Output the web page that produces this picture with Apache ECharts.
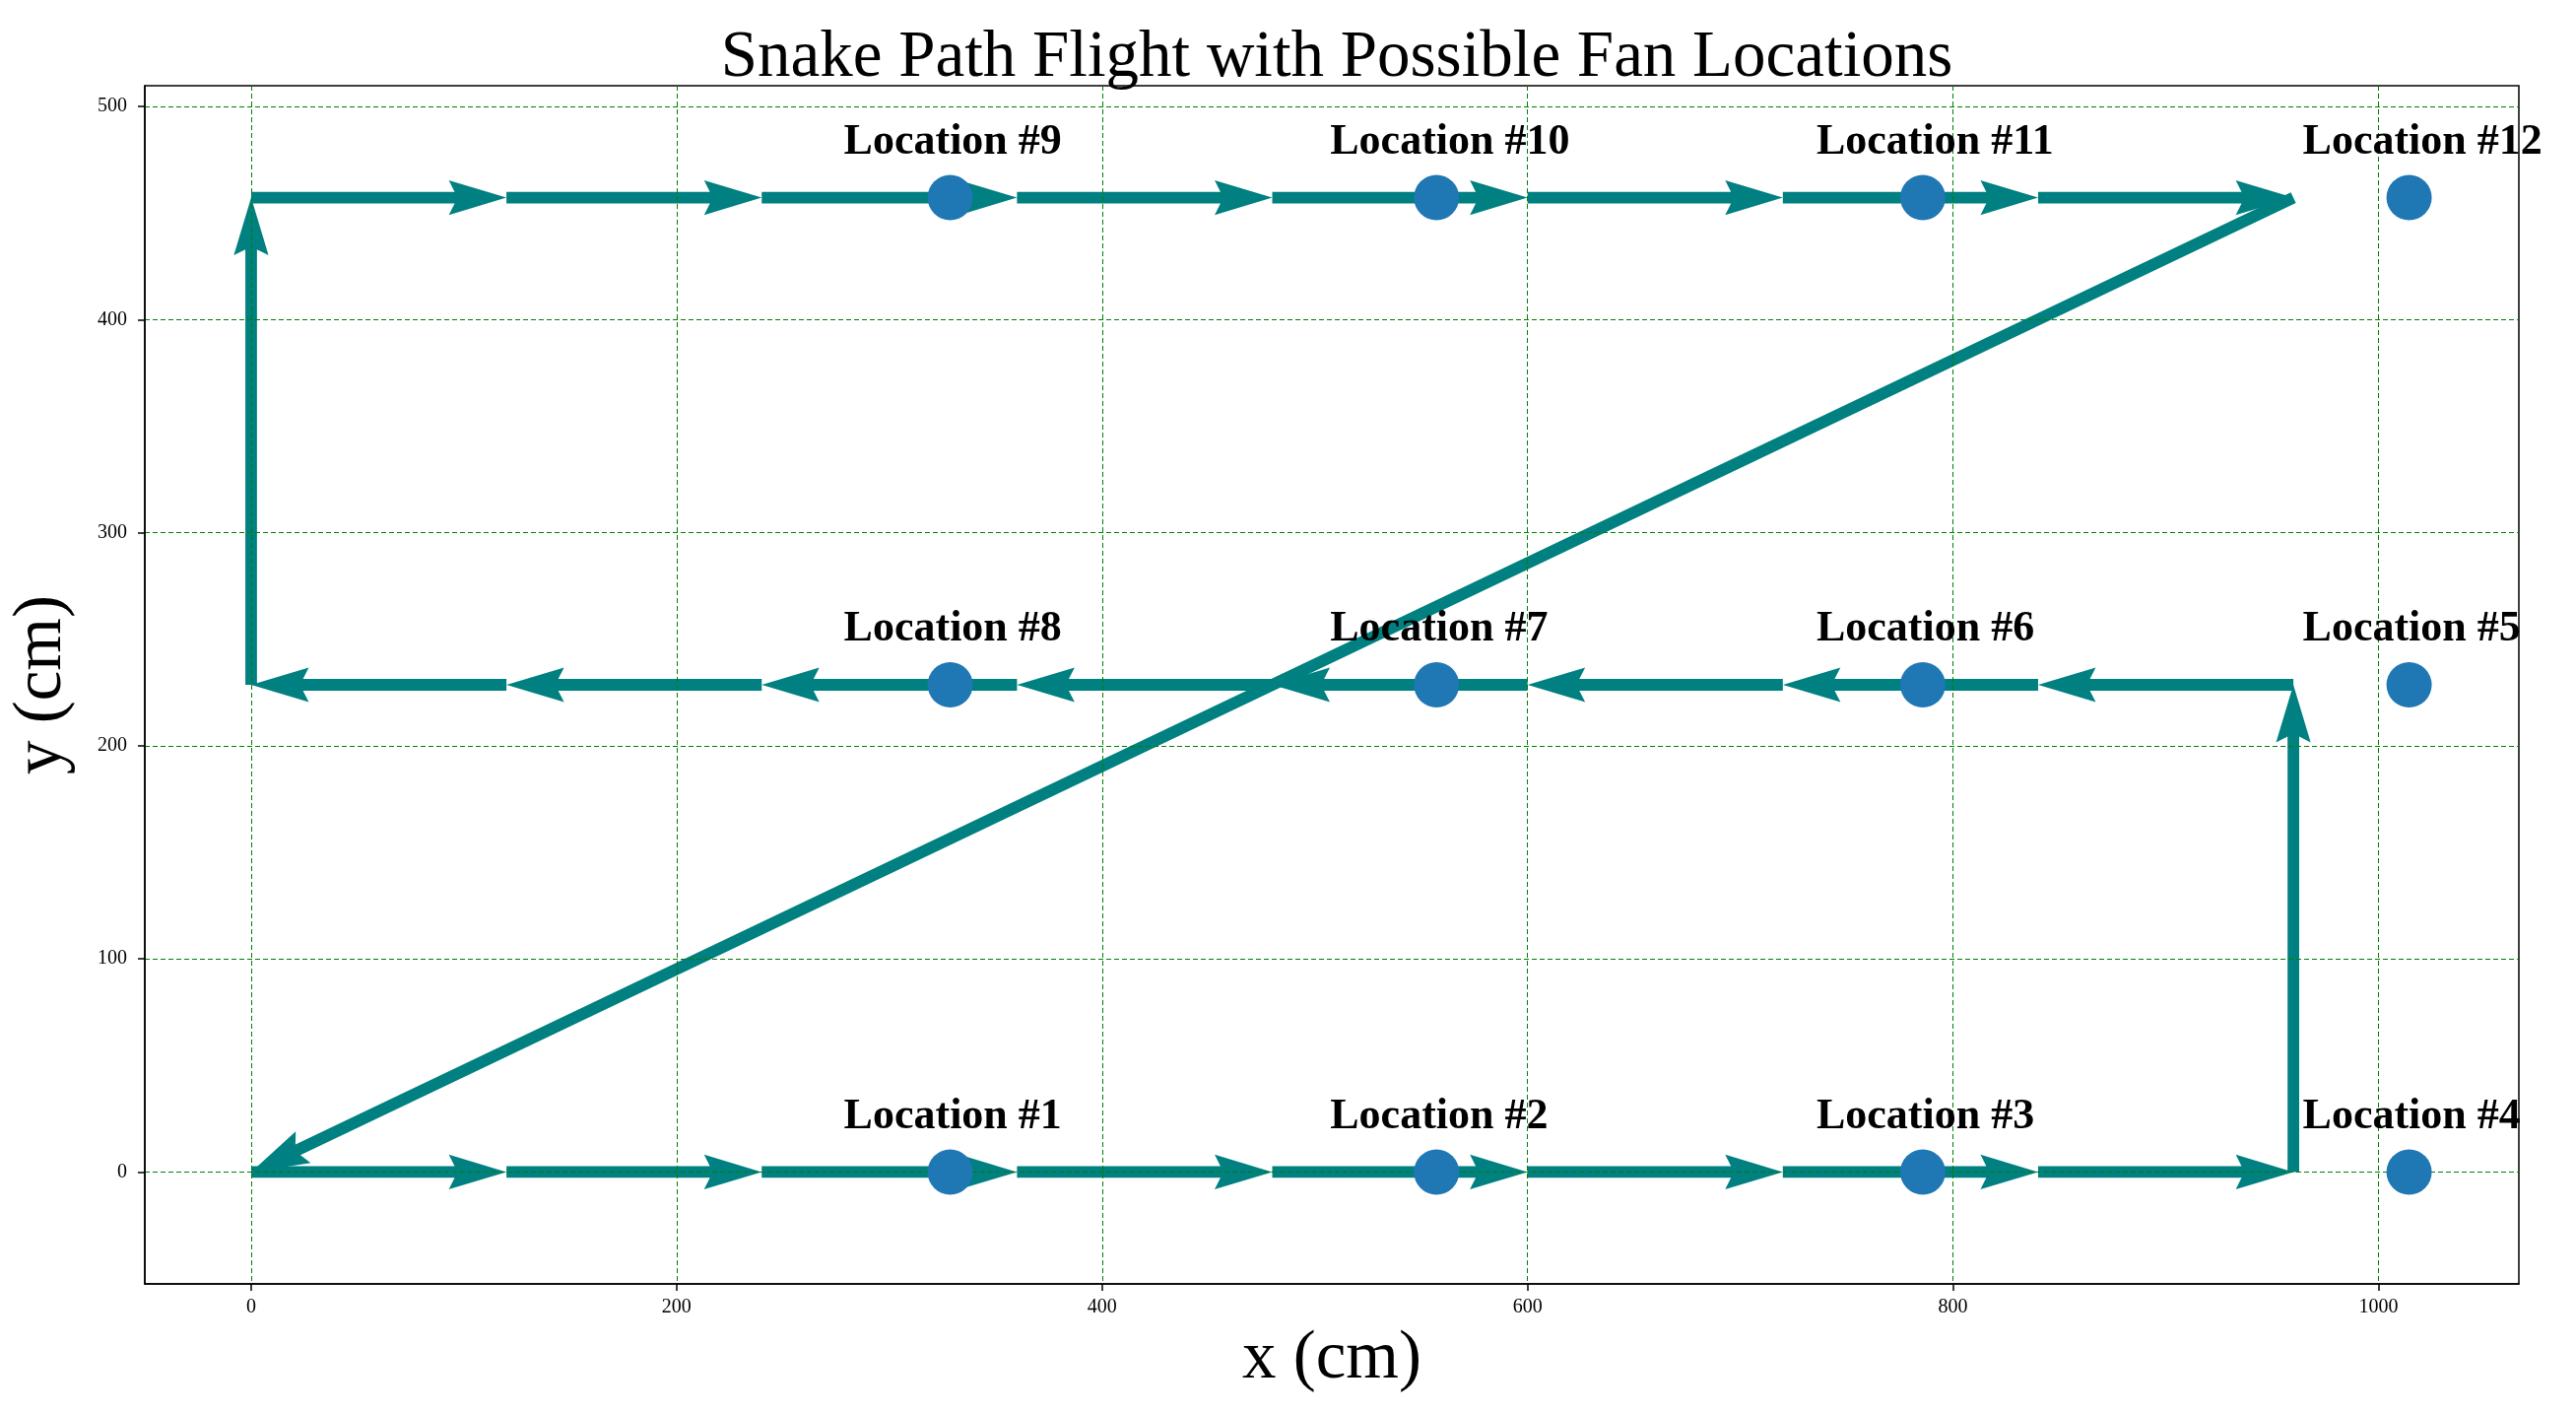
<!DOCTYPE html>
<html>
<head>
<meta charset="utf-8">
<title>Snake Path Flight with Possible Fan Locations</title>
<script src="https://cdn.jsdelivr.net/npm/echarts@6/dist/echarts.min.js"></script>
<style>
  html, body { margin: 0; padding: 0; background: #fff; }
  #main { width: 2615px; height: 1433px; }
</style>
</head>
<body>
<div id="main"></div>
<script>
// ------------------------------
// Data
// ------------------------------
// flight waypoints, in order; each pair of neighbours is one arrow
var flightX = [0, 120, 240, 360, 480, 600, 720, 840, 960,
               960, 840, 720, 600, 480, 360, 240, 120, 0,
               0, 120, 240, 360, 480, 600, 720, 840, 960,
               0];
var flightY = [0, 0, 0, 0, 0, 0, 0, 0, 0,
               228.6, 228.6, 228.6, 228.6, 228.6, 228.6, 228.6, 228.6, 228.6,
               457.2, 457.2, 457.2, 457.2, 457.2, 457.2, 457.2, 457.2, 457.2,
               0];

// possible fan locations
var fanNames = ['Location #1', 'Location #2', 'Location #3', 'Location #4',
                'Location #5', 'Location #6', 'Location #7', 'Location #8',
                'Location #9', 'Location #10', 'Location #11', 'Location #12'];
var fanX = [328.6, 557.2, 785.8, 1014.4, 1014.4, 785.8, 557.2, 328.6, 328.6, 557.2, 785.8, 1014.4];
var fanY = [0, 0, 0, 0, 228.6, 228.6, 228.6, 228.6, 457.2, 457.2, 457.2, 457.2];

// tick labels
var xTicks = [0, 200, 400, 600, 800, 1000];
var yTicks = [0, 100, 200, 300, 400, 500];

// ------------------------------
// Build series data
// ------------------------------
var arrowData = [];
for (var i = 0; i < flightX.length - 1; i++) {
    arrowData.push([flightX[i], flightY[i], flightX[i + 1], flightY[i + 1]]);
}
var fanData = fanX.map(function (x, i) { return [x, fanY[i], fanNames[i]]; });

var TEAL = '#008080';
var SERIF = '"Liberation Serif", "Times New Roman", serif';

// quiver-like arrow: shaft + notched head, sizes in px
function renderArrow(params, api) {
    var p0 = api.coord([api.value(0), api.value(1)]);
    var p1 = api.coord([api.value(2), api.value(3)]);
    var dx = p1[0] - p0[0], dy = p1[1] - p0[1];
    var len = Math.sqrt(dx * dx + dy * dy);
    var ux = dx / len, uy = dy / len;
    var nx = -uy, ny = ux;
    var w = 5.9, hw = 17.6, hl = 58.5, ha = 52.6;
    function pt(along, side) {
        return [p0[0] + ux * along + nx * side, p0[1] + uy * along + ny * side];
    }
    return {
        type: 'polygon',
        shape: {
            points: [
                pt(0, -w), pt(len - ha, -w), pt(len - hl, -hw), pt(len, 0),
                pt(len - hl, hw), pt(len - ha, w), pt(0, w)
            ]
        },
        style: { fill: TEAL }
    };
}

function renderLabel(params, api) {
    var p = api.coord([api.value(0) - 50, api.value(1) + 20]);
    return {
        type: 'text',
        x: p[0],
        y: p[1] - 13,
        style: {
            text: fanNames[params.dataIndex],
            fill: '#000',
            font: 'bold 44px ' + SERIF,
            align: 'left',
            verticalAlign: 'middle'
        }
    };
}

function plainNumber(v) { return String(v); }

var myChart = echarts.init(document.getElementById('main'));

var option = {
    backgroundColor: '#fff',
    animation: false,
    title: {
        text: 'Snake Path Flight with Possible Fan Locations',
        left: 1352,
        top: 21,
        textAlign: 'center',
        textStyle: { fontFamily: SERIF, fontSize: 67, fontWeight: 'normal', color: '#000' }
    },
    grid: {
        left: 147,
        right: 58,
        top: 87,
        bottom: 130,
        outerBoundsMode: 'none',
        containLabel: false,
        show: true,
        borderColor: '#000',
        borderWidth: 1.5,
        backgroundColor: 'transparent'
    },
    xAxis: {
        type: 'value',
        min: -50,
        max: 1066,
        z: 3,
        name: 'x (cm)',
        nameLocation: 'middle',
        nameGap: 42,
        nameTextStyle: { fontFamily: SERIF, fontSize: 69, color: '#000' },
        axisLine: { show: true, onZero: false, lineStyle: { color: '#000', width: 1.5 } },
        axisTick: { show: true, length: 7, customValues: xTicks, lineStyle: { color: '#000', width: 1.5 } },
        axisLabel: { customValues: xTicks, formatter: plainNumber, margin: 14, fontFamily: SERIF, fontSize: 20, color: '#000' },
        splitLine: { show: true, lineStyle: { color: '#008000', width: 1, type: [5, 3] } }
    },
    yAxis: {
        type: 'value',
        min: -52.5,
        max: 509.7,
        z: 3,
        name: 'y (cm)',
        nameLocation: 'middle',
        nameGap: 70,
        nameTextStyle: { fontFamily: SERIF, fontSize: 69, color: '#000' },
        axisLine: { show: true, onZero: false, lineStyle: { color: '#000', width: 1.5 } },
        axisTick: { show: true, length: 7, customValues: yTicks, lineStyle: { color: '#000', width: 1.5 } },
        axisLabel: { customValues: yTicks, formatter: plainNumber, margin: 18, fontFamily: SERIF, fontSize: 20, color: '#000' },
        splitLine: { show: true, lineStyle: { color: '#008000', width: 1, type: [5, 3] } }
    },
    series: [
        {
            name: 'Flight path',
            type: 'custom',
            z: 2,
            renderItem: renderArrow,
            encode: { x: [0, 2], y: [1, 3] },
            data: arrowData
        },
        {
            name: 'Fan locations',
            type: 'scatter',
            z: 4,
            symbol: 'circle',
            symbolSize: 46,
            itemStyle: { color: '#1f77b4', opacity: 1 },
            data: fanData
        },
        {
            name: 'Fan labels',
            type: 'custom',
            z: 5,
            renderItem: renderLabel,
            encode: { x: 0, y: 1 },
            data: fanData
        }
    ]
};

myChart.setOption(option);
</script>
</body>
</html>
